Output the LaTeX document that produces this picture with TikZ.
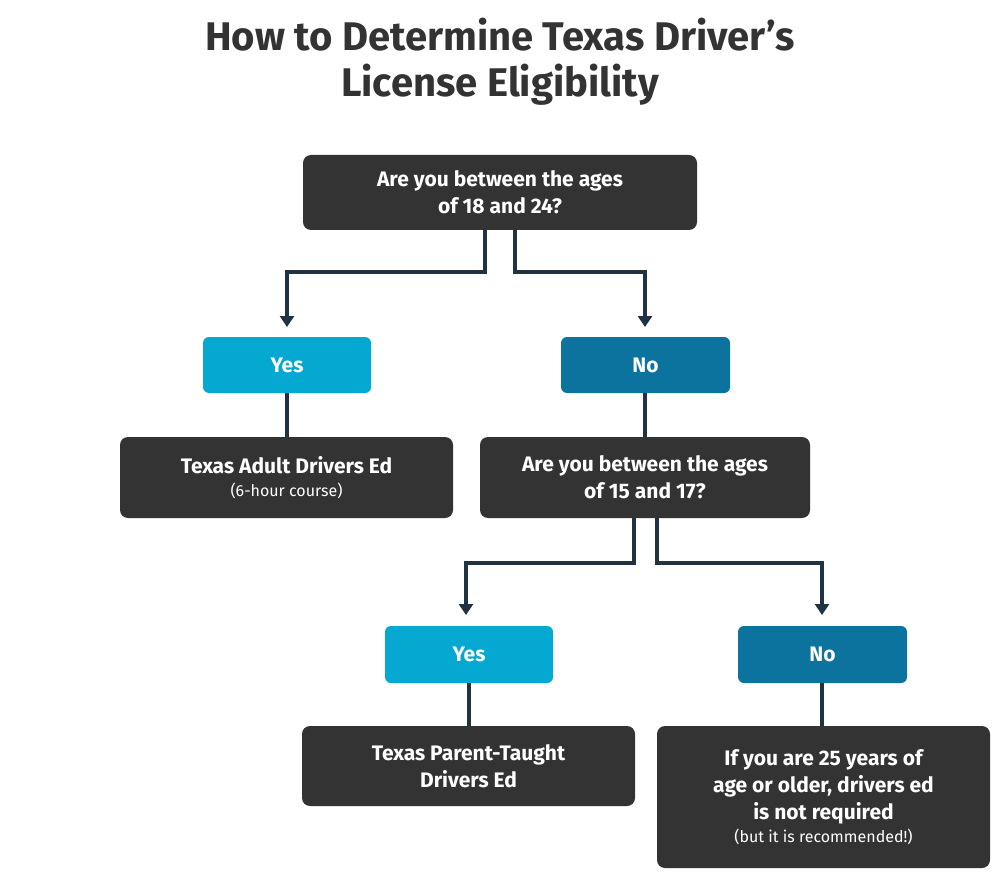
\documentclass[tikz,border=0pt]{standalone}
\usepackage{fontspec}
\setmainfont{Fira Sans}
\usetikzlibrary{arrows.meta}
\definecolor{dark}{HTML}{333333}
\definecolor{lblue}{HTML}{05A8D0}
\definecolor{dblue}{HTML}{0C729E}
\definecolor{line}{HTML}{1F3342}
\begin{document}
\begin{tikzpicture}[x=1pt,y=-1pt,
  box/.style={fill=dark,rounded corners=8pt,text=white,align=center,font=\fontsize{21}{27}\selectfont\bfseries},
  yesbox/.style={fill=lblue,rounded corners=6pt,text=white,font=\fontsize{21}{25}\selectfont\bfseries},
  nobox/.style={fill=dblue,rounded corners=6pt,text=white,font=\fontsize{21}{25}\selectfont\bfseries},
  conn/.style={draw=line,line width=4pt},
  arr/.style={conn,-{Triangle[length=11pt,width=14pt]}}]
\useasboundingbox (0,0) rectangle (1000,890);
\node[text=dark,align=center,font=\fontsize{40}{46}\selectfont\bfseries] (title) at (500,62) {How to Determine Texas Driver’s\\License Eligibility};
% boxes
\path[box] (303,155) rectangle (697,230);
\node[box,fill=none] (q1) at (500,192.5) {Are you between the ages\\of 18 and 24?};
\path[yesbox] (203,337) rectangle (371,393);
\node[yesbox,fill=none] (y1) at (287,365) {Yes};
\path[nobox] (561,337) rectangle (730,393);
\node[nobox,fill=none] (n1) at (645.5,365) {No};
\path[box] (120,437) rectangle (453,518);
\node[box,fill=none] (adult) at (286.5,477.5) {Texas Adult Drivers Ed\\[-4pt]{\fontsize{16}{18}\selectfont\mdseries (6-hour course)}};
\path[box] (480,437) rectangle (810,518);
\node[box,fill=none] (q2) at (645,477.5) {Are you between the ages\\of 15 and 17?};
\path[yesbox] (385,626) rectangle (553,683);
\node[yesbox,fill=none] (y2) at (469,654.5) {Yes};
\path[nobox] (738,626) rectangle (907,683);
\node[nobox,fill=none] (n2) at (822.5,654.5) {No};
\path[box] (302,726) rectangle (635,806);
\node[box,fill=none] (parent) at (468.5,766) {Texas Parent-Taught\\Drivers Ed};
\path[box] (657,726) rectangle (990,868);
\node[box,fill=none] (old) at (823.5,797) {If you are 25 years of\\age or older, drivers ed\\is not required\\[-4pt]{\fontsize{16}{18}\selectfont\mdseries (but it is recommended!)}};
% connectors
\coordinate (a1) at (485,230); \coordinate (a2) at (515,230);
\draw[arr] (a1) -- (485,272) -- (287,272) -- (287,327);
\draw[arr] (a2) -- (515,272) -- (645,272) -- (645,327);
\draw[conn] (287,393) -- (287,437);
\draw[conn] (645,393) -- (645,437);
\coordinate (b1) at (634,518); \coordinate (b2) at (657,518);
\draw[arr] (b1) -- (634,563) -- (466,563) -- (466,615);
\draw[arr] (b2) -- (657,563) -- (822,563) -- (822,615);
\draw[conn] (469,683) -- (469,726);
\draw[conn] (822,683) -- (822,726);
\end{tikzpicture}
\end{document}
